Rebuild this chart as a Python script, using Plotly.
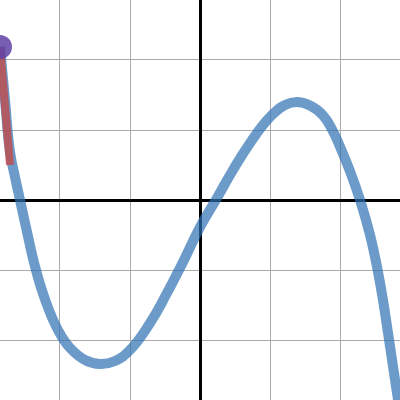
import plotly.graph_objects as go

# curve points (graph units, 1 grid square = 1)
curve_x = [-2.857, -2.786, -2.714, -2.643, -2.571, -2.457, -2.357, -2.214, -2.029, -1.857,
           -1.643, -1.429, -1.214, -1.0, -0.714, -0.486, -0.243, 0.0, 0.243, 0.471,
           0.714, 1.0, 1.214, 1.386, 1.571, 1.757, 1.9, 2.0, 2.143, 2.286,
           2.429, 2.529, 2.614, 2.686, 2.814, 2.857]
curve_y = [2.186, 1.429, 0.686, 0.329, 0.0, -0.52, -0.95, -1.42, -1.857, -2.114,
           -2.286, -2.343, -2.3, -2.143, -1.757, -1.357, -0.886, -0.386, 0.029, 0.429,
           0.814, 1.186, 1.357, 1.4, 1.35, 1.21, 0.98, 0.76, 0.41, 0.0,
           -0.5, -0.957, -1.43, -1.9, -2.757, -3.029]

seg_x = [-2.857, -2.714]
seg_y = [2.186, 0.5]

fig = go.Figure()
fig.add_trace(go.Scatter(x=curve_x, y=curve_y, mode="lines",
                         line=dict(color="rgba(45,112,179,0.7)", width=10, shape="spline", smoothing=1.3)))
fig.add_trace(go.Scatter(x=seg_x, y=seg_y, mode="lines",
                         line=dict(color="rgba(199,68,64,0.75)", width=8)))
fig.add_trace(go.Scatter(x=seg_x[:1], y=seg_y[:1], mode="markers",
                         marker=dict(color="rgba(96,66,166,0.85)", size=24)))

ax = dict(range=[-2.857, 2.857], dtick=1, showgrid=True, gridcolor="#aaaaaa", gridwidth=1,
          zeroline=True, zerolinecolor="black", zerolinewidth=3, showticklabels=False,
          ticks="", fixedrange=True)
fig.update_xaxes(**ax)
fig.update_yaxes(**ax)
fig.update_layout(width=400, height=400, margin=dict(l=0, r=0, t=0, b=0),
                  plot_bgcolor="white", paper_bgcolor="white", showlegend=False)
fig.write_html("out.html", config={"displayModeBar": False})

# drop the default body margin so the chart fills the window
with open("out.html") as f:
    html = f.read()
html = html.replace("<head>", "<head><style>body{margin:0;overflow:hidden}</style>", 1)
with open("out.html", "w") as f:
    f.write(html)
